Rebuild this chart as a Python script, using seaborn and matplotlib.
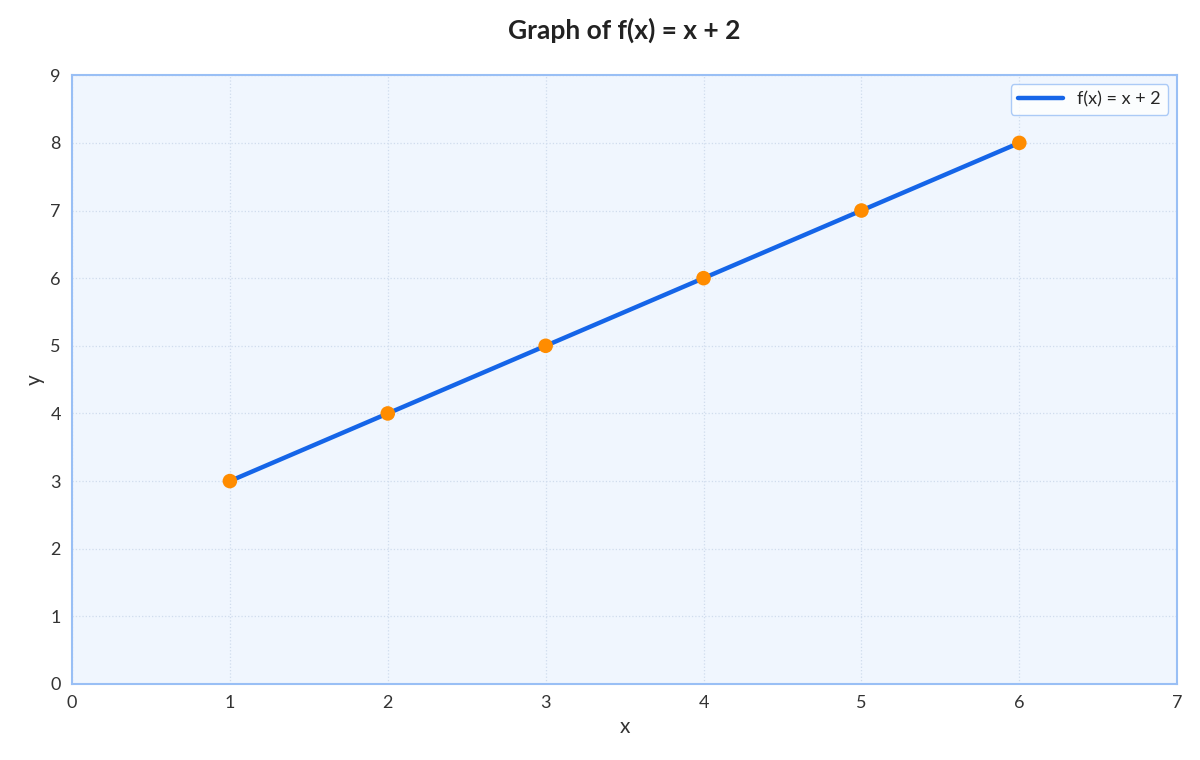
import matplotlib
matplotlib.use("Agg")
import matplotlib.pyplot as plt
import seaborn as sns
import pandas as pd

x_vals = [1, 2, 3, 4, 5, 6]
y_vals = [3, 4, 5, 6, 7, 8]
x_ticks = [0, 1, 2, 3, 4, 5, 6, 7]
y_ticks = [0, 1, 2, 3, 4, 5, 6, 7, 8, 9]

sns.set_theme(style="white")
plt.rcParams['font.family'] = ['Lato', 'DejaVu Sans']

df = pd.DataFrame({"x": x_vals, "y": y_vals})

fig = plt.figure(figsize=(12, 7.6), dpi=100)
ax = fig.add_axes([0.06, 0.1, 0.921, 0.801])
ax.set_facecolor("#f0f6fe")

sns.lineplot(data=df, x="x", y="y", ax=ax, color="#1565e8", linewidth=3.2,
             label="f(x) = x + 2", zorder=3)
sns.scatterplot(data=df, x="x", y="y", ax=ax, color="#ff8c00", s=110,
                edgecolor="none", zorder=4, legend=False)

ax.set_xlim(0, 7)
ax.set_ylim(0, 9)
ax.set_xticks(x_ticks)
ax.set_yticks(y_ticks)
ax.grid(True, linestyle=":", color="#d0dced", linewidth=0.9)
for s in ax.spines.values():
    s.set_color("#99bff5")
    s.set_linewidth(1.5)
ax.tick_params(labelsize=13, colors="#333333", length=0, pad=8)
ax.set_xlabel("x", fontsize=15, color="#333333")
ax.set_ylabel("y", fontsize=15, color="#333333")
ax.set_title("Graph of f(x) = x + 2", fontsize=19, fontweight="bold",
             color="#222222", pad=26)
leg = ax.legend(loc="upper right", fontsize=13, frameon=True, fancybox=True,
                handlelength=2.5)
leg.get_frame().set_edgecolor("#99bff5")
leg.get_frame().set_facecolor("white")

fig.savefig("out.png", dpi=100)
